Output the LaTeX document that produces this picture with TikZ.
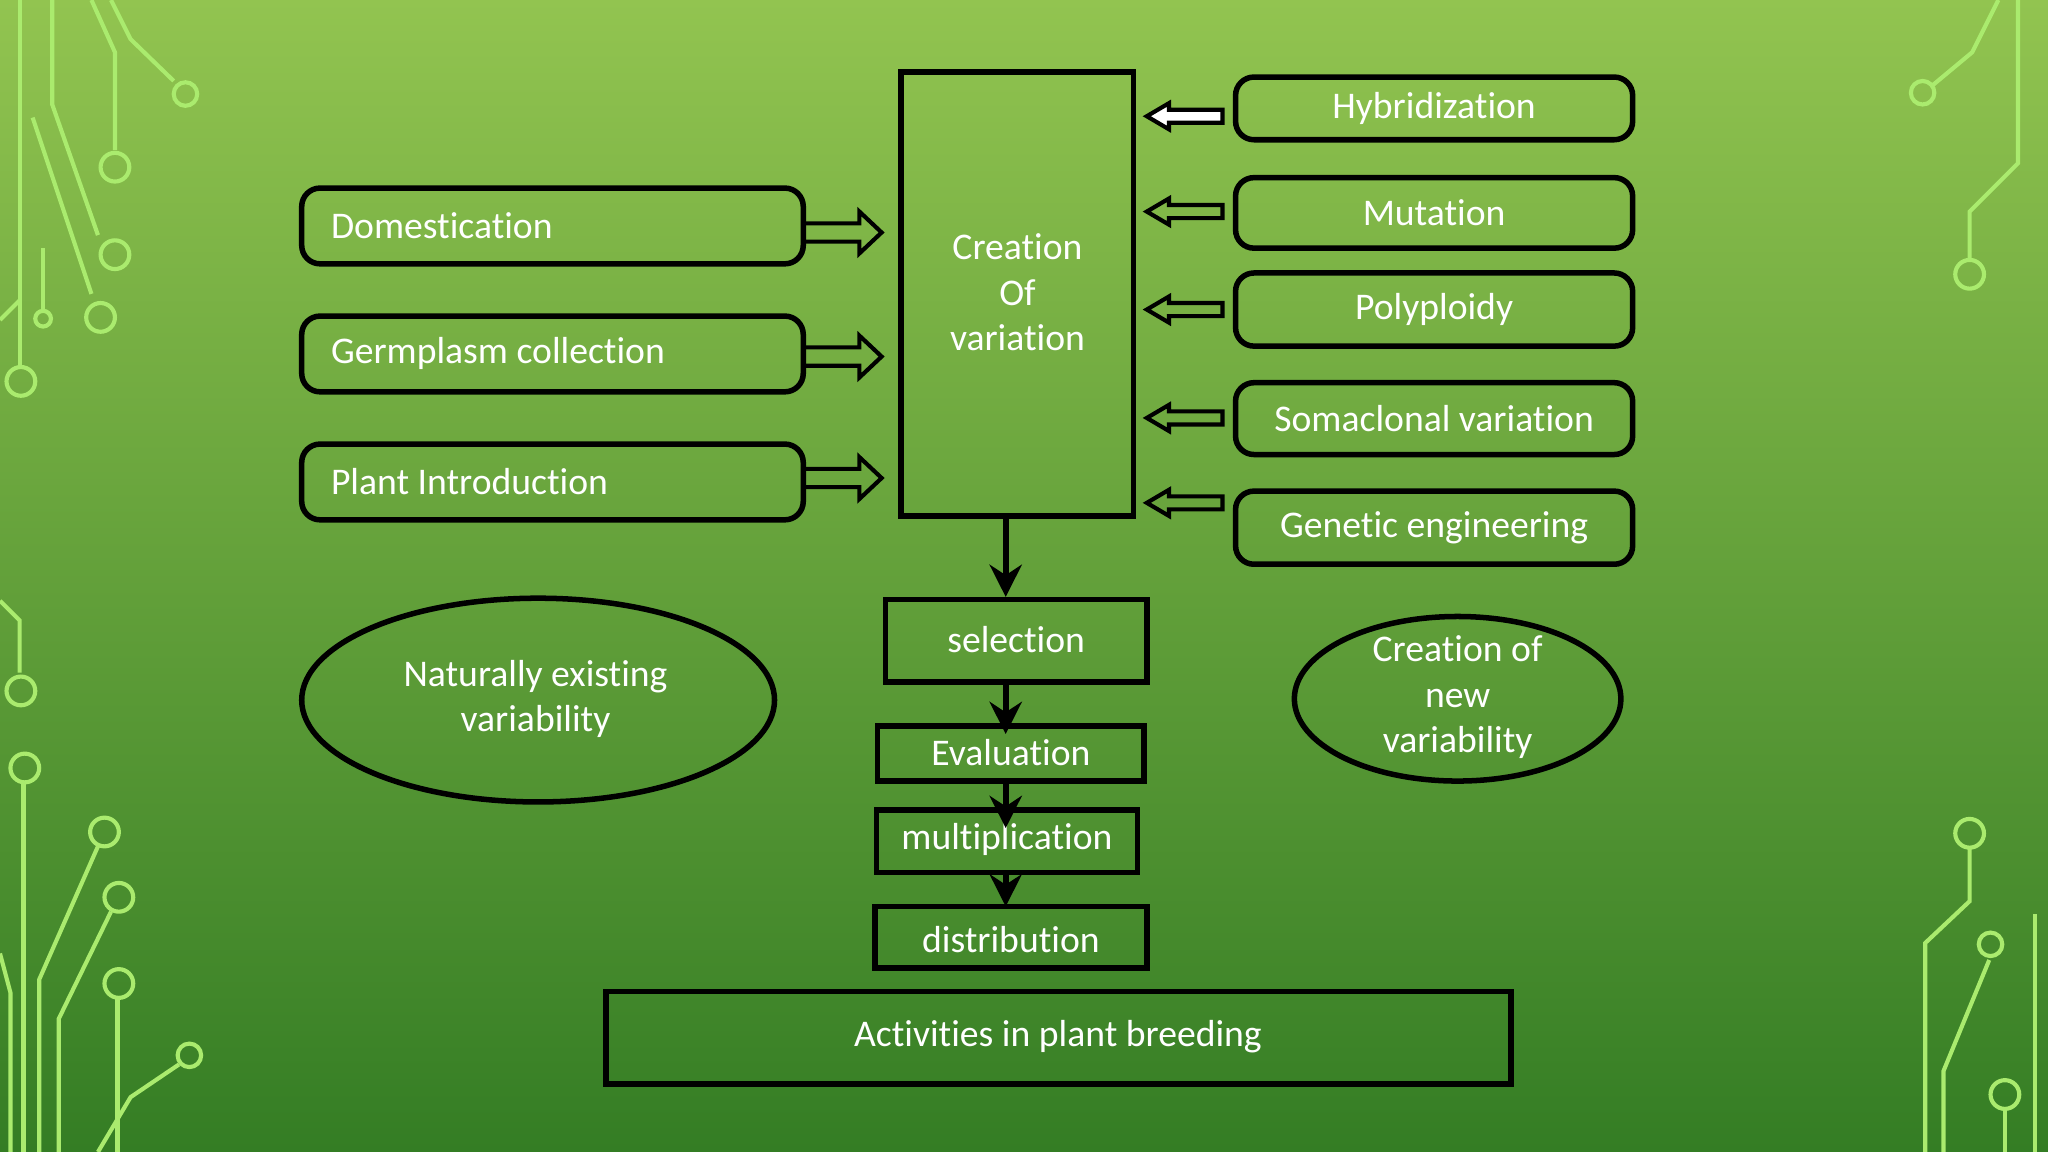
\documentclass[tikz,border=0pt]{standalone}
\usepackage{fontspec}
\setmainfont{Carlito}[Ligatures={NoCommon}]
\usetikzlibrary{arrows.meta}
\begin{document}
\begin{tikzpicture}[x=0.01cm,y=-0.01cm,
  txt/.style={text=white,font=\fontsize{8.2}{9.9}\selectfont},
  harrow/.style={draw=black,line width=0.9pt,fill=#1},
  dar/.style={-{Stealth[length=7pt,width=7pt]},line width=1.4pt},
  bl/.style={line width=1.2pt},
  circ/.style={draw={rgb,255:red,170;green,235;blue,110},line width=0.9pt}]
\shade[top color={rgb,255:red,146;green,196;blue,80},bottom color={rgb,255:red,52;green,125;blue,36}] (0,0) rectangle (1568,882);
\useasboundingbox (0,0) rectangle (1568,882);
% circuit decorations
\begin{scope}[circ]
\draw (15,0)--(15,280); \draw (16,292) circle (11);
\draw (40,0)--(40,80)--(75,180); \draw (88,195) circle (11);
\draw (70,0)--(88,40)--(88,115); \draw (88,128) circle (11);
\draw (85,0)--(100,30)--(133,62); \draw (142,72) circle (9);
\draw (25,90)--(70,225); \draw (77,243) circle (11);
\draw (33,190)--(33,238); \draw (33,244) circle (6);
\draw (0,245)--(15,230);
\draw (0,460)--(15,475)--(15,515); \draw (16,529) circle (11);
\draw (18,600)--(18,882); \draw (19,588) circle (11);
\draw (30,882)--(30,750)--(75,648); \draw (80,637) circle (11);
\draw (45,882)--(45,780)--(85,698); \draw (91,687) circle (11);
\draw (90,765)--(90,882); \draw (91,753) circle (11);
\draw (75,882)--(100,840)--(137,815); \draw (145,808) circle (9);
\draw (0,730)--(8,760)--(8,882);
\draw (1530,0)--(1510,40)--(1480,65); \draw (1472,71) circle (9);
\draw (1545,0)--(1545,125)--(1508,162)--(1508,198); \draw (1508,210) circle (11);
\draw (1508,650)--(1508,690)--(1474,722)--(1474,882); \draw (1508,638) circle (11);
\draw (1523,735)--(1488,820)--(1488,882); \draw (1524,723) circle (9);
\draw (1535,850)--(1535,882); \draw (1535,838) circle (11);
\draw (1558,700)--(1558,882);
\end{scope}
% central
\draw[bl] (690,55) rectangle (868,395);
\node[txt,align=center] (cvl) at (779,224) {Creation\\Of\\variation};
% left boxes
\foreach \n/\t/\y in {dom/Domestication/173, ger/Germplasm collection/271, pin/Plant Introduction/369}{
  \draw[bl,rounded corners=4pt] (231,\y-29) rectangle (615,\y+29);
  \node[txt,anchor=west] (\n) at (241,\y) {\t};
}
\foreach \y in {178,273,366}{
  \draw[harrow=none] (615,\y-7)--(658,\y-7)--(658,\y-16)--(675,\y)--(658,\y+16)--(658,\y+7)--(615,\y+7)--cycle;
}
% right boxes
\foreach \n/\t/\a/\b in {hyb/Hybridization/59/107, mut/Mutation/136/190, pol/Polyploidy/209/265, som/Somaclonal variation/293/348, gen/Genetic engineering/376/432}{
  \draw[rounded corners=4pt,bl] (946,\a) rectangle (1250,\b);
  \node[txt] (\n) at (1098,{(\a+\b)/2}) {\t};
}
\foreach \y/\f in {89/white,162/none,237/none,320/none,385/none}{
  \draw[harrow=\f] (936,\y-5)--(895,\y-5)--(895,\y-10)--(878,\y)--(895,\y+10)--(895,\y+5)--(936,\y+5)--cycle;
}
% chain
\draw[bl] (678,459) rectangle (878,522); \node[txt] (sel) at (778,490) {selection};
\draw[bl] (672,556) rectangle (876,598); \node[txt] (eva) at (774,576) {Evaluation};
\draw[bl] (671,620) rectangle (871,668); \node[txt] (mul) at (771,643) {multiplication};
\draw[bl] (670,694) rectangle (878,741); \node[txt] (dis) at (774,719) {distribution};
\draw[bl] (464,759) rectangle (1157,830); \node[txt] (act) at (810,794) {Activities in plant breeding};
\coordinate (a1) at (770,395); \coordinate (a2) at (770,457);
\coordinate (b1) at (770,522); \coordinate (b2) at (770,562);
\coordinate (c1) at (770,598); \coordinate (c2) at (770,634);
\coordinate (d1) at (770,668); \coordinate (d2) at (770,694);
\draw[dar] (a1)--(a2); \draw[dar] (b1)--(b2); \draw[dar] (c1)--(c2); \draw[dar] (d1)--(d2);
% ellipses
\draw[bl] (412,536) ellipse [x radius=181,y radius=78];
\node[txt,align=center] (nat) at (410,535) {Naturally existing\\variability};
\draw[bl] (1116,535) ellipse [x radius=125,y radius=63];
\node[txt,align=center] (new) at (1116,534) {Creation of\\new\\variability};
\end{tikzpicture}
\end{document}
